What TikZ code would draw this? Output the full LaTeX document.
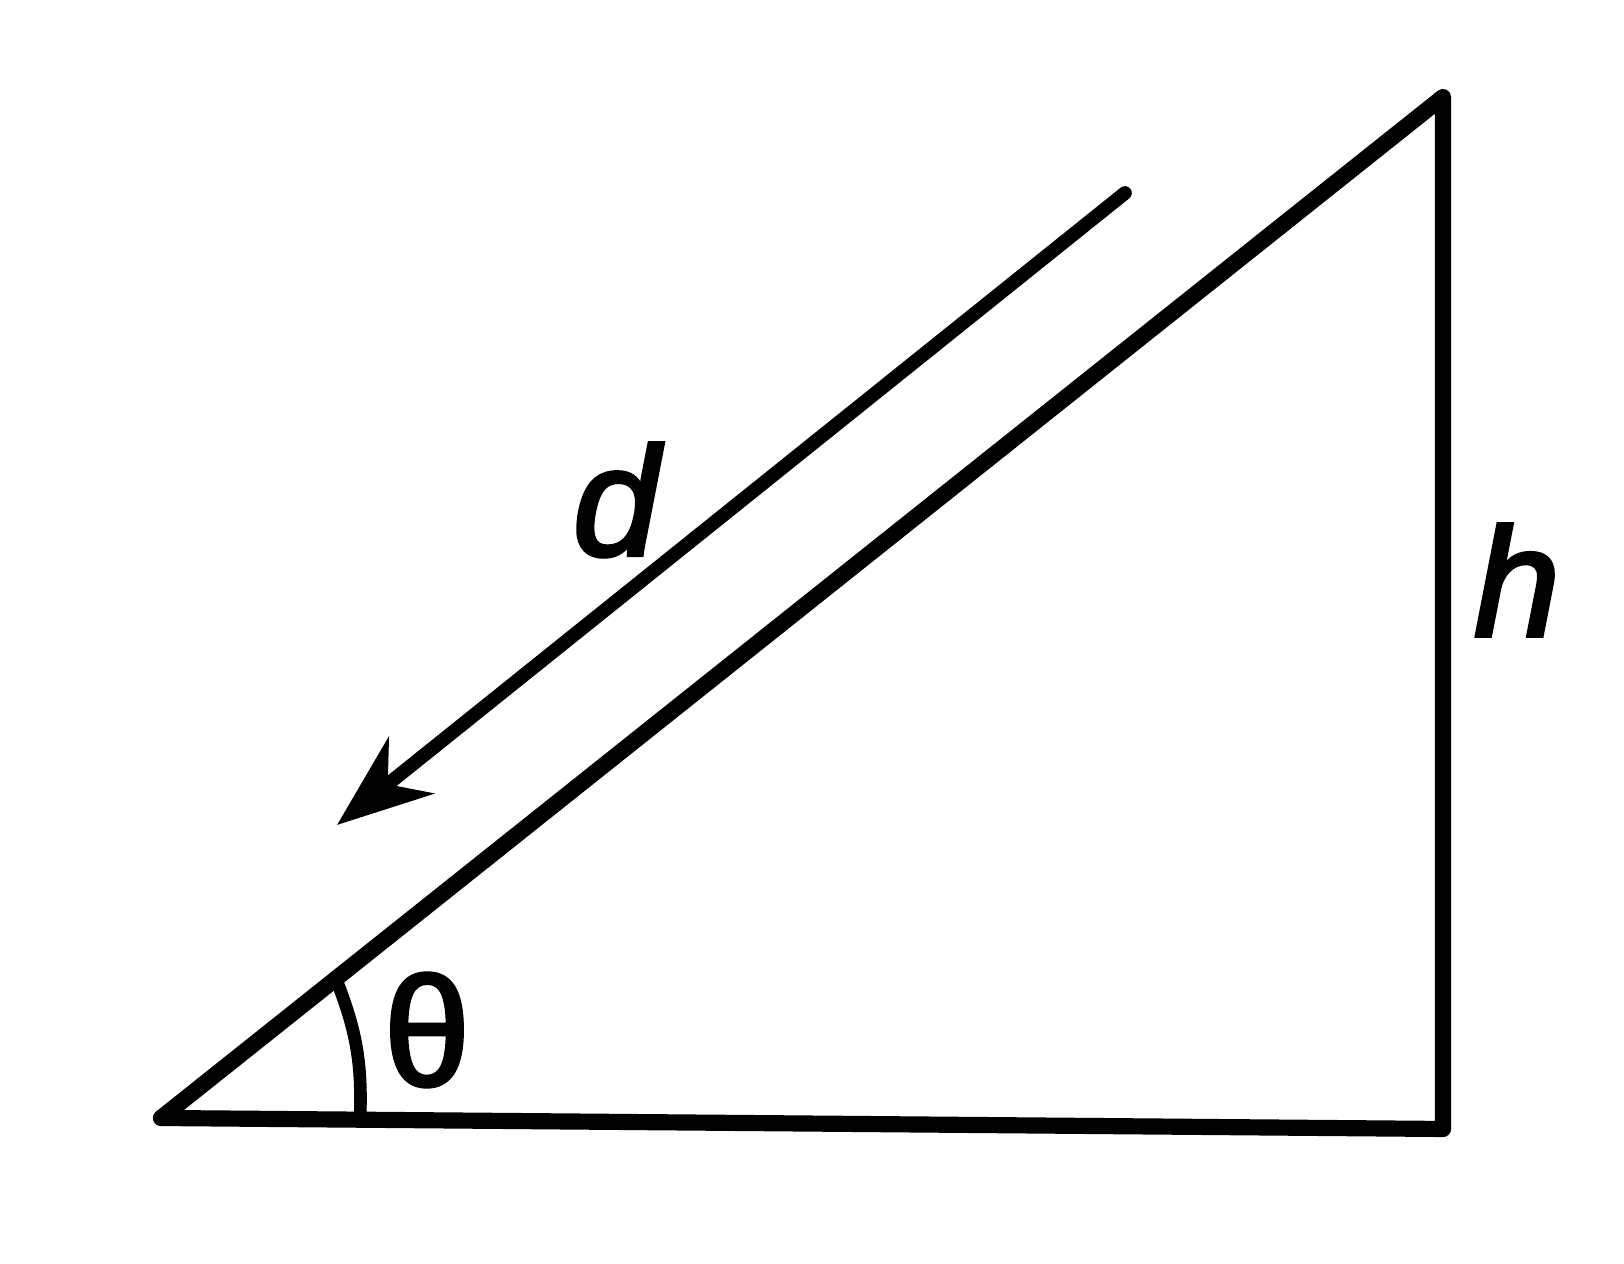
\documentclass[tikz,border=0pt]{standalone}
\usepackage{fontspec}
\setmainfont{Liberation Sans}
\newfontfamily\heavyfont[FakeBold=2.5]{Liberation Sans}
\usetikzlibrary{positioning}
\usetikzlibrary{arrows.meta}

\tikzset{
	side/.style={line width=4.6pt, line join=round},
	label/.style={font=\heavyfont\fontsize{44}{50}\selectfont}
}

\begin{document}
\begin{tikzpicture}
		\useasboundingbox (0,0) rectangle (16.24,12.64);

		\coordinate (base) at (1.61,1.46);
		\coordinate (corner) at (14.43,1.35);
		\coordinate (top) at (14.43,11.67);

		\draw[side] (base) -- (top) -- (corner) -- cycle;

		\coordinate (from) at (11.25,10.71);
		\coordinate (to) at (3.37,4.39);
		\draw[line width=3.9pt, line cap=round, -{Stealth[length=0.95cm, width=0.72cm, inset=0.3cm]}] (from) -- (to);

		\coordinate (arctop) at (3.36,2.85);
		\coordinate (arcbot) at (3.60,1.44);
		\draw[line width=3.6pt] (arctop) to[bend left=12] (arcbot);

		\node[label] (d) at (6.16,7.64) {\itshape d};
		\node[label] (h) at (15.17,6.84) {\itshape h};
		\node[label] (theta) at (4.27,2.34) {θ};
	\end{tikzpicture}
\end{document}
